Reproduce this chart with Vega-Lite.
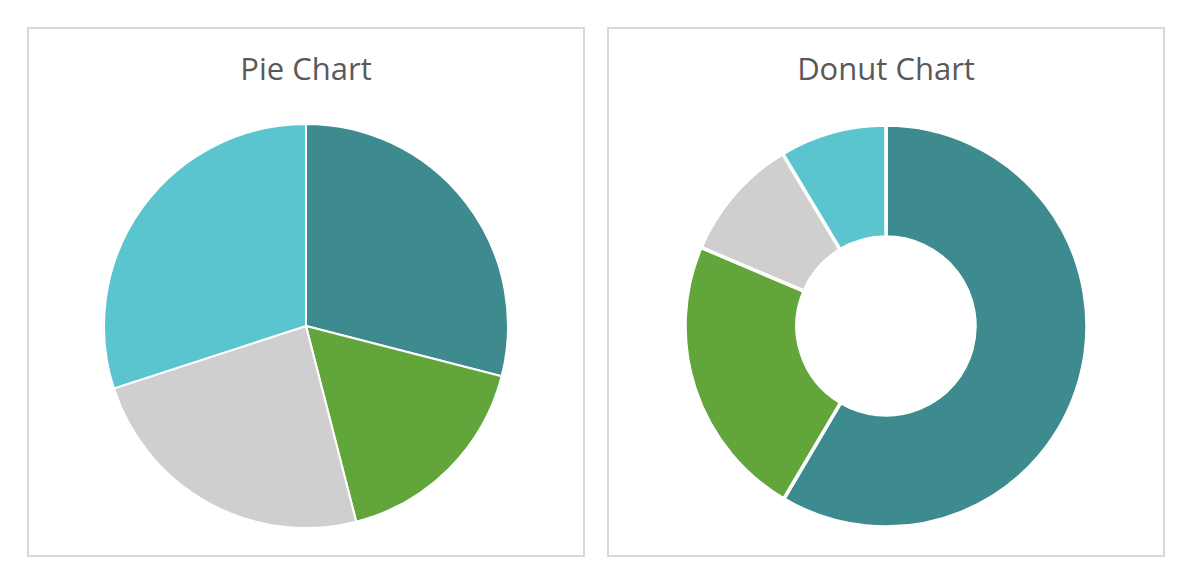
{
  "$schema": "https://vega.github.io/schema/vega-lite/v6.json",
  "padding": {"left": 27, "top": 27, "right": 0, "bottom": 0},
  "background": "white",
  "datasets": {
    "pie": [
      {"slice": "Teal", "idx": 1, "value": 29},
      {"slice": "Green", "idx": 2, "value": 17},
      {"slice": "Gray", "idx": 3, "value": 24},
      {"slice": "Cyan", "idx": 4, "value": 30}
    ],
    "donut": [
      {"slice": "Teal", "idx": 1, "value": 58.5},
      {"slice": "Green", "idx": 2, "value": 22.9},
      {"slice": "Gray", "idx": 3, "value": 10.0},
      {"slice": "Cyan", "idx": 4, "value": 8.6}
    ]
  },
  "hconcat": [
    {
      "width": 556,
      "height": 528,
      "view": {"stroke": "#d9d9d9", "strokeWidth": 2},
      "title": {"text": "Pie Chart"},
      "data": {"name": "pie"},
      "mark": {"type": "arc", "radius": 202, "stroke": "white", "strokeWidth": 2, "yOffset": 34},
      "encoding": {
        "theta": {"field": "value", "type": "quantitative", "stack": true},
        "order": {"field": "idx", "type": "quantitative"},
        "color": {
          "field": "slice", "type": "nominal", "legend": null,
          "scale": {"domain": ["Teal", "Green", "Gray", "Cyan"], "range": ["#3d8a8f", "#62a53b", "#d0cfd0", "#5bc5cf"]}
        }
      }
    },
    {
      "width": 556,
      "height": 528,
      "view": {"stroke": "#d9d9d9", "strokeWidth": 2},
      "title": {"text": "Donut Chart"},
      "data": {"name": "donut"},
      "mark": {"type": "arc", "radius": 201, "radius2": 89, "stroke": "white", "strokeWidth": 3.5, "yOffset": 34},
      "encoding": {
        "theta": {"field": "value", "type": "quantitative", "stack": true},
        "order": {"field": "idx", "type": "quantitative"},
        "color": {
          "field": "slice", "type": "nominal", "legend": null,
          "scale": {"domain": ["Teal", "Green", "Gray", "Cyan"], "range": ["#3d8a8f", "#62a53b", "#d0cfd0", "#5bc5cf"]}
        }
      }
    }
  ],
  "spacing": 22,
  "config": {
    "view": {"stroke": "#d9d9d9", "strokeWidth": 2},
    "title": {"font": "Open Sans", "fontSize": 31, "fontWeight": "normal", "color": "#595959", "anchor": "middle", "baseline": "alphabetic", "offset": -59}
  }
}
